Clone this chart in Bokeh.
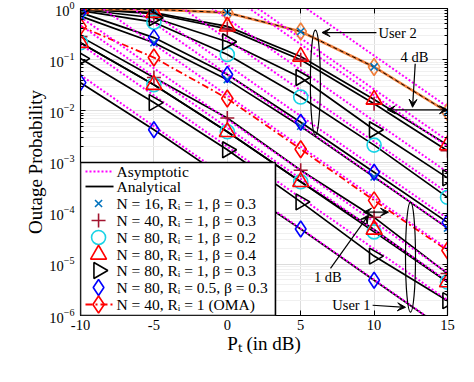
import numpy as np
from bokeh.plotting import figure
from bokeh.models import (LogAxis, LinearAxis, Arrow, VeeHead, Label, FixedTicker,
                          CustomLabelingPolicy, BoxAnnotation)
from bokeh.embed import file_html
from bokeh.resources import INLINE

# ---------------- data ----------------
pt_db = [-10, -5, 0, 5, 10, 15]
x_ticks = [-10, -5, 0, 5, 10, 15]
y_ticks = [1e-6, 1e-5, 1e-4, 1e-3, 1e-2, 1e-1, 1]

# user 2 (upper curves)
u2_oma = [0.98, 0.96, 0.83, 0.355, 0.072, 0.0095]
u2_n16 = [0.98, 0.96, 0.83, 0.355, 0.072, 0.0095]
u2_n80_b04 = [0.98, 0.83, 0.447, 0.115, 0.0166, 0.00214]
u2_n40 = [0.98, 0.79, 0.40, 0.10, 0.0138, 0.00166]
u2_n80_b03 = [0.955, 0.66, 0.224, 0.0447, 0.00427, 0.00049]
u2_n80_b02 = [0.91, 0.54, 0.126, 0.0186, 0.00214, 0.000204]
u2_n80_r05 = [0.83, 0.27, 0.0513, 0.0060, 0.00063, 6.6e-5]

# user 1 (lower curves)
u1_n16 = [0.71, 0.214, 0.0407, 0.0050, 0.00051, 5.1e-5]
u1_oma = [0.447, 0.110, 0.0174, 0.00178, 0.000178, 1.86e-5]
u1_n40 = [0.282, 0.0447, 0.00724, 0.00069, 8.3e-5, 6.6e-6]
u1_n80_b04 = [0.214, 0.0324, 0.00389, 0.00041, 4.8e-5, 4.5e-6]
u1_n80_b02 = [0.214, 0.0324, 0.00389, 0.00041, 4.3e-5, 4.5e-6]
u1_n80_b03 = [0.105, 0.0145, 0.00174, 0.000166, 1.45e-5, 1.95e-6]
u1_n80_r05 = [0.0355, 0.00427, 0.000447, 4.9e-5, 4.9e-6, 4.9e-7]

# asymptotes: values at Pt = -10 dB and Pt = 15 dB
asym_x = [-10, 15]
a_u2_oma = [1200, 0.012]
a_u2_b04 = [263, 0.00263]
a_u2_n40 = [200, 0.0020]
a_u2_b03 = [63, 0.00063]
a_u2_b02 = [25, 0.00025]
a_u2_r05 = [7.9, 7.9e-5]
a_u1_n16 = [5.2, 5.2e-5]
a_u1_oma = [2.0, 2.0e-5]
a_u1_n40 = [0.68, 6.8e-6]
a_u1_b04 = [0.47, 4.7e-6]
a_u1_b03 = [0.2, 2.0e-6]
a_u1_r05 = [0.05, 5e-7]

labels = ["Asymptotic", "Analytical",
          "N = 16, Rᵢ = 1, β = 0.3",
          "N = 40, Rᵢ = 1, β = 0.3",
          "N = 80, Rᵢ = 1, β = 0.2",
          "N = 80, Rᵢ = 1, β = 0.4",
          "N = 80, Rᵢ = 1, β = 0.3",
          "N = 80, Rᵢ = 0.5, β = 0.3",
          "N = 40, Rᵢ = 1 (OMA)"]

# ---------------- style ----------------
FONT = "Liberation Serif"
MAG = "#FF00FF"
ORANGE = "#F07E3A"
C_X = "#0072BD"
C_PLUS = "#A2142F"
C_CYAN = "#19D3E6"
C_RED = "#FF0000"
C_BLUE = "#0000FF"
ASYM_DASH = "2 2"
OMA_DASH = "7 3 2 3"

p = figure(width=458, height=366, x_range=(-10, 15), y_range=(1e-6, 1),
           y_axis_type="log", output_backend="svg", toolbar_location=None,
           min_border_left=80, min_border_right=11, min_border_top=8,
           min_border_bottom=51, background_fill_color="white")
p.outline_line_color = "black"
p.outline_line_width = 1.2

# axes
p.xaxis.ticker = FixedTicker(ticks=x_ticks)
p.xaxis.major_label_overrides = {t: str(t) for t in x_ticks}
minors = [m * 10.0 ** e for e in range(-6, 0) for m in range(2, 10)]
p.yaxis.ticker = FixedTicker(ticks=y_ticks, minor_ticks=minors)
for ax in (p.xaxis[0], p.yaxis[0]):
    ax.major_tick_in = 5
    ax.major_tick_out = 0
    ax.minor_tick_in = 3
    ax.minor_tick_out = 0
    ax.axis_line_color = "black"
    ax.major_label_text_font = FONT
    ax.major_label_text_font_size = "14.5px"
    ax.major_label_text_color = "black"
    ax.axis_label_text_font = FONT
    ax.axis_label_text_font_style = "normal"
    ax.axis_label_text_color = "black"
p.xaxis.minor_tick_line_color = None
p.xaxis.major_label_standoff = 4
p.yaxis.major_label_standoff = 6
p.xaxis.axis_label = "Pₜ (in dB)"
p.xaxis.axis_label_text_font_size = "19px"
p.xaxis.axis_label_standoff = 0
p.yaxis.axis_label = "Outage Probability"
p.yaxis.axis_label_text_font_size = "19px"
p.yaxis.axis_label_standoff = 0

no_labels = "for (const i of indices) { if (i < 0) { yield i } }"
top_ax = LinearAxis(ticker=FixedTicker(ticks=x_ticks),
                    major_label_policy=CustomLabelingPolicy(code=no_labels),
                    major_label_text_font_size="1px",
                    major_tick_in=5, major_tick_out=0, minor_tick_line_color=None,
                    major_label_standoff=0, axis_line_color="black")
p.add_layout(top_ax, "above")
right_ax = LogAxis(ticker=FixedTicker(ticks=y_ticks, minor_ticks=minors),
                   major_label_policy=CustomLabelingPolicy(code=no_labels),
                   major_label_text_font_size="1px",
                   major_tick_in=5, major_tick_out=0,
                   minor_tick_in=3, minor_tick_out=0, major_label_standoff=0,
                   axis_line_color="black")
p.add_layout(right_ax, "right")

p.xgrid.grid_line_color = "#dcdcdc"
p.ygrid.grid_line_color = "#dcdcdc"
p.ygrid.minor_grid_line_color = "#f0f0f0"

# ---------------- analytical lines ----------------
analytic = [u2_n80_b04, u2_n40, u2_n80_b03, u2_n80_b02, u2_n80_r05,
            u1_n16, u1_n40, u1_n80_b04, u1_n80_b02, u1_n80_b03, u1_n80_r05]
for s in analytic:
    p.line(pt_db, s, line_color="black", line_width=1.7)

# OMA curves
p.line(pt_db, u2_oma, line_color=ORANGE, line_width=2.6)
p.line(pt_db, u2_oma, line_color="black", line_width=1.0, line_dash="4 3")
p.line(pt_db, u1_oma, line_color=C_RED, line_width=1.8, line_dash=OMA_DASH)

# asymptotes
for a in [a_u2_oma, a_u2_b04, a_u2_n40, a_u2_b03, a_u2_b02, a_u2_r05,
          a_u1_n16, a_u1_oma, a_u1_n40, a_u1_b04, a_u1_b03, a_u1_r05]:
    p.line(asym_x, a, line_color=MAG, line_width=2, line_dash=ASYM_DASH)

# ---------------- markers ----------------
mk = dict(fill_color=None, line_width=1.6)
m_x = dict(marker="x", size=10, line_color=C_X)
m_plus = dict(marker="cross", size=14, line_color=C_PLUS)
m_circ = dict(marker="circle", size=14, line_color=C_CYAN)
m_tri = dict(marker="triangle", size=16, line_color=C_RED)
m_rt = dict(marker="triangle", angle=-np.pi / 2, size=16, line_color="black")
m_dia = dict(marker="diamond", size=16, line_color=C_BLUE)
m_oma = dict(marker="diamond", size=17, line_color=C_RED)

p.scatter(pt_db, u2_oma, marker="diamond", size=17, line_color=ORANGE, **mk)
p.scatter(pt_db, u1_n16, **m_x, **mk)
p.scatter(pt_db, u2_n16, **m_x, **mk)
p.scatter(pt_db, u1_n40, **m_plus, **mk)
p.scatter(pt_db, u2_n40, **m_plus, **mk)
p.scatter(pt_db, u1_n80_b02, **m_circ, **mk)
p.scatter(pt_db, u2_n80_b02, **m_circ, **mk)
p.scatter(pt_db, u1_n80_b04, **m_tri, **mk)
p.scatter(pt_db, u2_n80_b04, **m_tri, **mk)
p.scatter(pt_db, u1_n80_b03, **m_rt, **mk)
p.scatter(pt_db, u2_n80_b03, **m_rt, **mk)
p.scatter(pt_db, u1_n80_r05, **m_dia, **mk)
p.scatter(pt_db, u2_n80_r05, **m_dia, **mk)
p.scatter(pt_db, u1_oma, **m_oma, **mk)

# ---------------- annotations ----------------
p.ellipse(x=[6.0], y=[10 ** -1.45], width=10, height=105, width_units="screen",
          height_units="screen", fill_color=None, line_color="black", line_width=1.2)
p.ellipse(x=[12.48], y=[10 ** -4.86], width=10, height=110, width_units="screen",
          height_units="screen", fill_color=None, line_color="black", line_width=1.2)

def arrow(x0, y0, x1, y1, both=False):
    head = lambda: VeeHead(size=8, fill_color="black", line_color="black")
    p.add_layout(Arrow(x_start=x0, y_start=y0, x_end=x1, y_end=y1,
                       end=head(), start=head() if both else None,
                       line_color="black", line_width=1.2))

arrow(10.16, 10 ** -0.47, 6.45, 10 ** -0.47)
arrow(12.8, 10 ** -1.08, 12.62, 10 ** -1.93)
arrow(10.9, 10 ** -1.98, 15.0, 10 ** -1.98, both=True)
arrow(7.03, 10 ** -5.08, 9.62, 10 ** -4.04)
arrow(9.28, 10 ** -3.98, 10.98, 10 ** -3.98, both=True)
arrow(9.9, 10 ** -5.8, 12.14, 10 ** -5.84)

for tx, ty, t in [(10.3, 10 ** -0.47, "User 2"), (11.8, 10 ** -0.95, "4 dB"),
                  (5.9, 10 ** -5.24, "1 dB"), (7.15, 10 ** -5.8, "User 1")]:
    p.add_layout(Label(x=tx, y=ty, text=t, text_font=FONT, text_font_size="14.5px",
                       text_baseline="middle", text_color="black"))

# ---------------- legend (drawn in the lower-left corner) ----------------
leg_rows = [10 ** r for r in (-3.185, -3.479, -3.811, -4.143, -4.475,
                              -4.808, -5.120, -5.452, -5.785)]
LX0, LX1, LXM, LXT = -9.66, -7.75, -8.77, -7.55
p.add_layout(BoxAnnotation(left=-10, right=3.28, bottom=1e-6, top=10 ** -3.01,
                           fill_color="white", fill_alpha=1, line_color="black",
                           line_width=1.6, line_alpha=1))
p.line([LX0, LX1], [leg_rows[0]] * 2, line_color=MAG, line_width=2,
       line_dash=ASYM_DASH, level="overlay")
p.line([LX0, LX1], [leg_rows[1]] * 2, line_color="black", line_width=1.8,
       level="overlay")
p.line([LX0, LX1], [leg_rows[8]] * 2, line_color=C_RED, line_width=1.8,
       line_dash=OMA_DASH, level="overlay")
for row, m in zip(leg_rows[2:], [m_x, m_plus, m_circ, m_tri, m_rt, m_dia, m_oma]):
    p.scatter([LXM], [row], level="overlay", **m, **mk)
for row, t in zip(leg_rows, labels):
    p.add_layout(Label(x=LXT, y=row, text=t, text_font=FONT, text_font_size="15.5px",
                       text_baseline="middle", text_color="black", level="overlay"))

open("out.html", "w").write(file_html(p, INLINE))
